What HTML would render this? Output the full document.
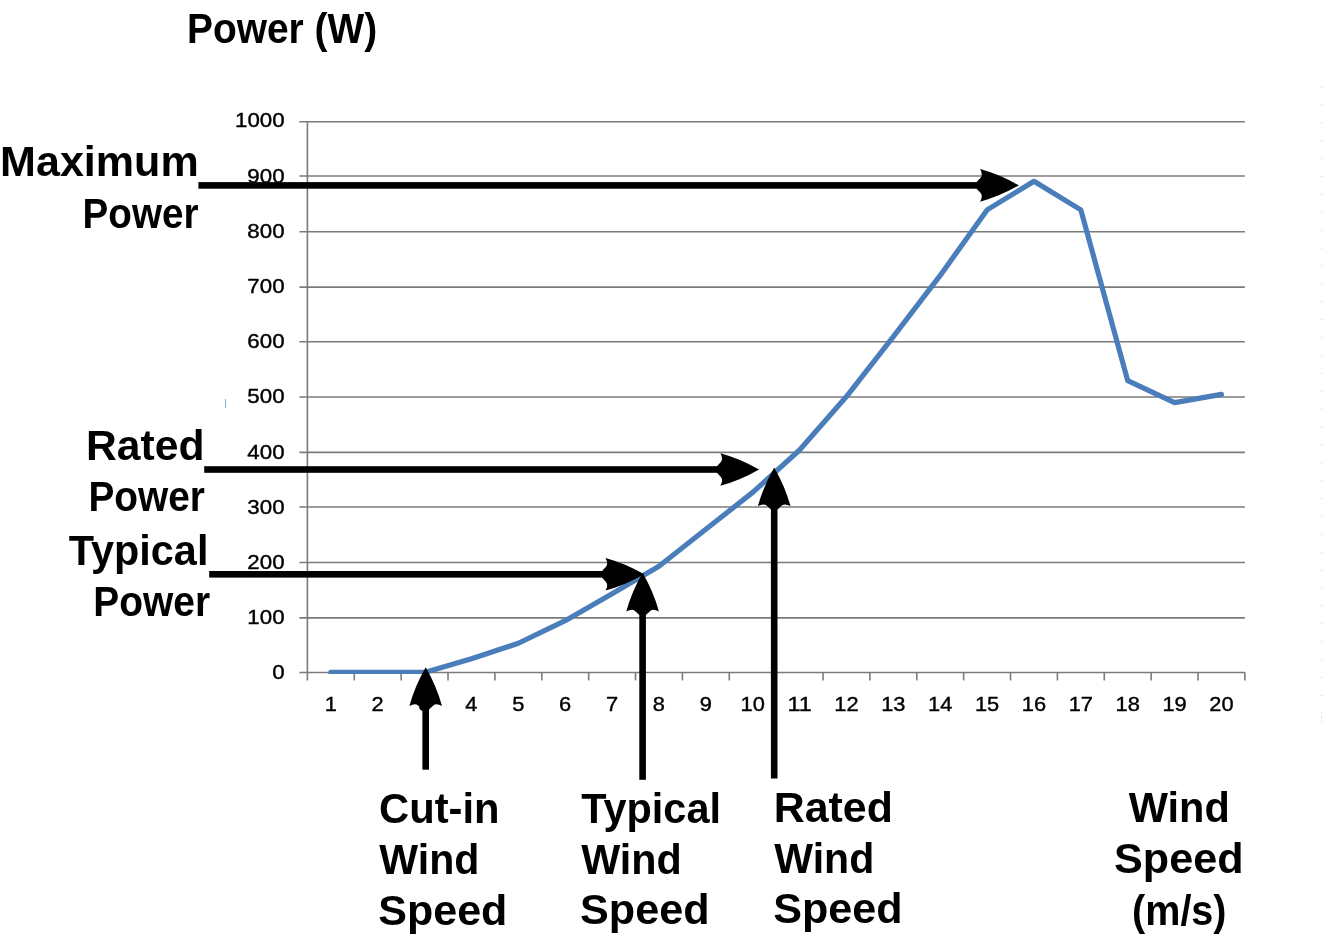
<!DOCTYPE html>
<html lang="en">
<head>
<meta charset="utf-8">
<title>Wind turbine power curve</title>
<style>
html,body{margin:0;padding:0;background:#fff;}
body{width:1322px;height:935px;overflow:hidden;}
svg{display:block;}
.b{font-family:"Liberation Sans",Arial,sans-serif;font-weight:bold;font-size:43.4px;fill:#000;}
.t{font-family:"Liberation Sans",Arial,sans-serif;font-size:21.0px;fill:#000;stroke:#000;stroke-width:0.4px;}
</style>
</head>
<body>
<svg width="1322" height="935" viewBox="0 0 1322 935">
<rect x="0" y="0" width="1322" height="935" fill="#ffffff"/>
<rect x="225" y="399" width="1" height="9" fill="#5b9bd5" opacity="0.8"/>
<g fill="#c6c6c6">
<rect x="1321" y="86.6" width="1" height="1"/>
<rect x="1321" y="104.5" width="1" height="1"/>
<rect x="1321" y="122.4" width="1" height="1"/>
<rect x="1321" y="140.3" width="1" height="1"/>
<rect x="1321" y="158.2" width="1" height="1"/>
<rect x="1321" y="176.1" width="1" height="1"/>
<rect x="1321" y="193.9" width="1" height="1"/>
<rect x="1321" y="211.8" width="1" height="1"/>
<rect x="1321" y="229.7" width="1" height="1"/>
<rect x="1321" y="247.6" width="1" height="1"/>
<rect x="1321" y="265.5" width="1" height="1"/>
<rect x="1321" y="283.4" width="1" height="1"/>
<rect x="1321" y="301.3" width="1" height="1"/>
<rect x="1321" y="319.2" width="1" height="1"/>
<rect x="1321" y="337.1" width="1" height="1"/>
<rect x="1321" y="355.0" width="1" height="1"/>
<rect x="1321" y="372.8" width="1" height="1"/>
<rect x="1321" y="390.7" width="1" height="1"/>
<rect x="1321" y="408.6" width="1" height="1"/>
<rect x="1321" y="426.5" width="1" height="1"/>
<rect x="1321" y="444.4" width="1" height="1"/>
<rect x="1321" y="462.3" width="1" height="1"/>
<rect x="1321" y="480.2" width="1" height="1"/>
<rect x="1321" y="498.1" width="1" height="1"/>
<rect x="1321" y="516.0" width="1" height="1"/>
<rect x="1321" y="533.9" width="1" height="1"/>
<rect x="1321" y="551.7" width="1" height="1"/>
<rect x="1321" y="569.6" width="1" height="1"/>
<rect x="1321" y="587.5" width="1" height="1"/>
<rect x="1321" y="605.4" width="1" height="1"/>
<rect x="1321" y="623.3" width="1" height="1"/>
<rect x="1321" y="641.2" width="1" height="1"/>
<rect x="1321" y="659.1" width="1" height="1"/>
<rect x="1321" y="677.0" width="1" height="1"/>
<rect x="1321" y="694.9" width="1" height="1"/>
<rect x="1321" y="712.5" width="1" height="1"/>
<rect x="1321" y="716.8" width="1" height="1"/>
<rect x="1321" y="721.4" width="1" height="1"/>
</g>
<g stroke="#7b7b7b" stroke-width="1.6" fill="none">
<line x1="299.4" y1="672.44" x2="1244.9" y2="672.44"/>
<line x1="299.4" y1="617.90" x2="1244.9" y2="617.90"/>
<line x1="299.4" y1="562.43" x2="1244.9" y2="562.43"/>
<line x1="299.4" y1="507.00" x2="1244.9" y2="507.00"/>
<line x1="299.4" y1="452.35" x2="1244.9" y2="452.35"/>
<line x1="299.4" y1="397.00" x2="1244.9" y2="397.00"/>
<line x1="299.4" y1="341.75" x2="1244.9" y2="341.75"/>
<line x1="299.4" y1="287.10" x2="1244.9" y2="287.10"/>
<line x1="299.4" y1="231.75" x2="1244.9" y2="231.75"/>
<line x1="299.4" y1="176.00" x2="1244.9" y2="176.00"/>
<line x1="299.4" y1="121.82" x2="1244.9" y2="121.82"/>
<line x1="307.40" y1="121.80" x2="307.40" y2="680.45"/>
<line x1="354.27" y1="672.45" x2="354.27" y2="680.45"/>
<line x1="401.15" y1="672.45" x2="401.15" y2="680.45"/>
<line x1="448.02" y1="672.45" x2="448.02" y2="680.45"/>
<line x1="494.90" y1="672.45" x2="494.90" y2="680.45"/>
<line x1="541.77" y1="672.45" x2="541.77" y2="680.45"/>
<line x1="588.65" y1="672.45" x2="588.65" y2="680.45"/>
<line x1="635.53" y1="672.45" x2="635.53" y2="680.45"/>
<line x1="682.40" y1="672.45" x2="682.40" y2="680.45"/>
<line x1="729.28" y1="672.45" x2="729.28" y2="680.45"/>
<line x1="776.15" y1="672.45" x2="776.15" y2="680.45"/>
<line x1="823.03" y1="672.45" x2="823.03" y2="680.45"/>
<line x1="869.90" y1="672.45" x2="869.90" y2="680.45"/>
<line x1="916.78" y1="672.45" x2="916.78" y2="680.45"/>
<line x1="963.65" y1="672.45" x2="963.65" y2="680.45"/>
<line x1="1010.53" y1="672.45" x2="1010.53" y2="680.45"/>
<line x1="1057.40" y1="672.45" x2="1057.40" y2="680.45"/>
<line x1="1104.28" y1="672.45" x2="1104.28" y2="680.45"/>
<line x1="1151.15" y1="672.45" x2="1151.15" y2="680.45"/>
<line x1="1198.03" y1="672.45" x2="1198.03" y2="680.45"/>
<line x1="1244.90" y1="672.45" x2="1244.90" y2="680.45"/>
</g>
<g class="t">
<text x="272.20" y="679.40" textLength="12.40" lengthAdjust="spacingAndGlyphs">0</text>
<text x="247.39" y="624.19" textLength="37.21" lengthAdjust="spacingAndGlyphs">100</text>
<text x="247.39" y="568.98" textLength="37.21" lengthAdjust="spacingAndGlyphs">200</text>
<text x="247.39" y="513.77" textLength="37.21" lengthAdjust="spacingAndGlyphs">300</text>
<text x="247.39" y="458.56" textLength="37.21" lengthAdjust="spacingAndGlyphs">400</text>
<text x="247.39" y="403.35" textLength="37.21" lengthAdjust="spacingAndGlyphs">500</text>
<text x="247.39" y="348.14" textLength="37.21" lengthAdjust="spacingAndGlyphs">600</text>
<text x="247.39" y="292.93" textLength="37.21" lengthAdjust="spacingAndGlyphs">700</text>
<text x="247.39" y="237.72" textLength="37.21" lengthAdjust="spacingAndGlyphs">800</text>
<text x="247.39" y="182.51" textLength="37.21" lengthAdjust="spacingAndGlyphs">900</text>
<text x="234.99" y="127.30" textLength="49.61" lengthAdjust="spacingAndGlyphs">1000</text>
<text x="324.76" y="711.30" textLength="12.15" lengthAdjust="spacingAndGlyphs">1</text>
<text x="371.64" y="711.30" textLength="12.15" lengthAdjust="spacingAndGlyphs">2</text>
<text x="418.51" y="711.30" textLength="12.15" lengthAdjust="spacingAndGlyphs">3</text>
<text x="465.39" y="711.30" textLength="12.15" lengthAdjust="spacingAndGlyphs">4</text>
<text x="512.26" y="711.30" textLength="12.15" lengthAdjust="spacingAndGlyphs">5</text>
<text x="559.14" y="711.30" textLength="12.15" lengthAdjust="spacingAndGlyphs">6</text>
<text x="606.01" y="711.30" textLength="12.15" lengthAdjust="spacingAndGlyphs">7</text>
<text x="652.89" y="711.30" textLength="12.15" lengthAdjust="spacingAndGlyphs">8</text>
<text x="699.76" y="711.30" textLength="12.15" lengthAdjust="spacingAndGlyphs">9</text>
<text x="740.57" y="711.30" textLength="24.29" lengthAdjust="spacingAndGlyphs">10</text>
<text x="787.44" y="711.30" textLength="24.29" lengthAdjust="spacingAndGlyphs">11</text>
<text x="834.32" y="711.30" textLength="24.29" lengthAdjust="spacingAndGlyphs">12</text>
<text x="881.19" y="711.30" textLength="24.29" lengthAdjust="spacingAndGlyphs">13</text>
<text x="928.07" y="711.30" textLength="24.29" lengthAdjust="spacingAndGlyphs">14</text>
<text x="974.94" y="711.30" textLength="24.29" lengthAdjust="spacingAndGlyphs">15</text>
<text x="1021.82" y="711.30" textLength="24.29" lengthAdjust="spacingAndGlyphs">16</text>
<text x="1068.69" y="711.30" textLength="24.29" lengthAdjust="spacingAndGlyphs">17</text>
<text x="1115.57" y="711.30" textLength="24.29" lengthAdjust="spacingAndGlyphs">18</text>
<text x="1162.44" y="711.30" textLength="24.29" lengthAdjust="spacingAndGlyphs">19</text>
<text x="1209.32" y="711.30" textLength="24.29" lengthAdjust="spacingAndGlyphs">20</text>
</g>
<clipPath id="plot"><rect x="307.4" y="100" width="937.5" height="574.1"/></clipPath>
<polyline clip-path="url(#plot)" points="330.84,672.45 377.71,672.45 424.59,672.45 471.46,658.68 518.34,643.27 565.21,620.69 612.09,593.71 658.96,566.17 705.84,529.28 752.71,492.39 799.59,449.99 846.46,396.57 893.34,336.55 940.21,275.43 987.09,209.90 1033.96,181.27 1080.84,209.90 1127.71,380.61 1174.59,402.63 1221.46,394.37" fill="none" stroke="#4a7ebb" stroke-width="5.2" stroke-linejoin="round" stroke-linecap="round"/>
<g fill="#000" stroke="none">
<rect x="198.40" y="182.10" width="779.40" height="6.6"/>
<path d="M0,0 Q-19.05,-10.95 -38.7,-16.3 Q-35.6,-10.5 -38.2,-7.6 L-42.2,-3.3 L-42.2,3.3 L-38.2,7.6 Q-35.6,10.5 -38.7,16.3 Q-19.05,10.95 0,0 Z" transform="translate(1018.80,185.40)"/>
<rect x="204.20" y="466.20" width="513.90" height="6.6"/>
<path d="M0,0 Q-19.05,-10.95 -38.7,-16.3 Q-35.6,-10.5 -38.2,-7.6 L-42.2,-3.3 L-42.2,3.3 L-38.2,7.6 Q-35.6,10.5 -38.7,16.3 Q-19.05,10.95 0,0 Z" transform="translate(759.10,469.50)"/>
<rect x="209.20" y="571.00" width="394.00" height="6.6"/>
<path d="M0,0 Q-19.05,-10.95 -38.7,-16.3 Q-35.6,-10.5 -38.2,-7.6 L-42.2,-3.3 L-42.2,3.3 L-38.2,7.6 Q-35.6,10.5 -38.7,16.3 Q-19.05,10.95 0,0 Z" transform="translate(644.20,574.30)"/>
<rect x="422.40" y="708.20" width="6.6" height="61.50"/>
<path d="M0,0 Q-19.05,-10.95 -38.7,-16.3 Q-35.6,-10.5 -38.2,-7.6 L-42.2,-3.3 L-42.2,3.3 L-38.2,7.6 Q-35.6,10.5 -38.7,16.3 Q-19.05,10.95 0,0 Z" transform="translate(425.70,667.20) rotate(-90)"/>
<rect x="639.30" y="613.80" width="6.6" height="166.00"/>
<path d="M0,0 Q-19.05,-10.95 -38.7,-16.3 Q-35.6,-10.5 -38.2,-7.6 L-42.2,-3.3 L-42.2,3.3 L-38.2,7.6 Q-35.6,10.5 -38.7,16.3 Q-19.05,10.95 0,0 Z" transform="translate(642.60,572.80) rotate(-90)"/>
<rect x="770.90" y="508.40" width="6.6" height="270.10"/>
<path d="M0,0 Q-19.05,-10.95 -38.7,-16.3 Q-35.6,-10.5 -38.2,-7.6 L-42.2,-3.3 L-42.2,3.3 L-38.2,7.6 Q-35.6,10.5 -38.7,16.3 Q-19.05,10.95 0,0 Z" transform="translate(774.20,467.40) rotate(-90)"/>
</g>
<g class="b">
<text x="187.01" y="42.80" textLength="190.20" lengthAdjust="spacingAndGlyphs">Power (W)</text>
<text x="0.12" y="176.10" textLength="198.61" lengthAdjust="spacingAndGlyphs">Maximum</text>
<text x="82.62" y="227.80" textLength="115.87" lengthAdjust="spacingAndGlyphs">Power</text>
<text x="86.03" y="459.70" textLength="118.48" lengthAdjust="spacingAndGlyphs">Rated</text>
<text x="88.41" y="510.80" textLength="116.48" lengthAdjust="spacingAndGlyphs">Power</text>
<text x="68.80" y="564.80" textLength="139.59" lengthAdjust="spacingAndGlyphs">Typical</text>
<text x="93.31" y="615.90" textLength="116.79" lengthAdjust="spacingAndGlyphs">Power</text>
<text x="379.04" y="823.10" textLength="120.48" lengthAdjust="spacingAndGlyphs">Cut-in</text>
<text x="379.30" y="873.50" textLength="100.10" lengthAdjust="spacingAndGlyphs">Wind</text>
<text x="378.31" y="924.50" textLength="129.09" lengthAdjust="spacingAndGlyphs">Speed</text>
<text x="581.20" y="823.20" textLength="139.79" lengthAdjust="spacingAndGlyphs">Typical</text>
<text x="581.20" y="873.60" textLength="100.62" lengthAdjust="spacingAndGlyphs">Wind</text>
<text x="580.01" y="923.90" textLength="129.50" lengthAdjust="spacingAndGlyphs">Speed</text>
<text x="773.72" y="821.80" textLength="119.11" lengthAdjust="spacingAndGlyphs">Rated</text>
<text x="774.30" y="872.50" textLength="100.00" lengthAdjust="spacingAndGlyphs">Wind</text>
<text x="773.31" y="922.90" textLength="129.30" lengthAdjust="spacingAndGlyphs">Speed</text>
<text x="1128.70" y="822.00" textLength="101.13" lengthAdjust="spacingAndGlyphs">Wind</text>
<text x="1114.01" y="873.10" textLength="129.50" lengthAdjust="spacingAndGlyphs">Speed</text>
<text x="1132.08" y="925.00" textLength="94.45" lengthAdjust="spacingAndGlyphs">(m/s)</text>
</g>
</svg>
</body>
</html>
